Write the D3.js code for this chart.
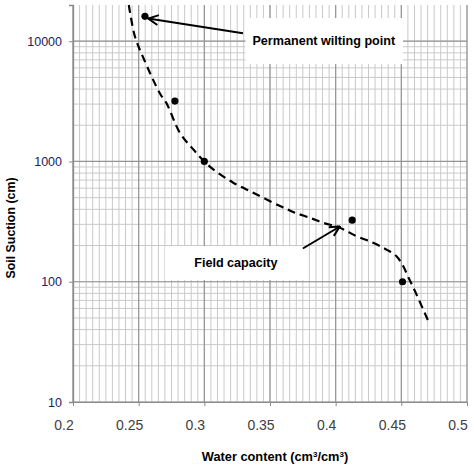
<!DOCTYPE html>
<html>
<head>
  <meta charset="utf-8">
  <title>Soil water retention</title>
  <style>
    body { margin: 0; background: #fff; }
    text { font-family: "Liberation Sans", Arial, sans-serif; }
  </style>
</head>
<body>
  <svg width="474" height="467"></svg>
  <script src="https://cdnjs.cloudflare.com/ajax/libs/d3/7.8.5/d3.min.js"></script>
  <script>
    // valores
    const xTicks = [0.2, 0.25, 0.3, 0.35, 0.4, 0.45, 0.5];
    const yTicks = [10, 100, 1000, 10000];

    const pointWater   = [0.2548, 0.2776, 0.3, 0.4126, 0.4509];
    const pointSuction = [16100, 3180, 1000, 325, 100];

    const curveWater   = [0.2425, 0.2472, 0.2535, 0.2662, 0.2713, 0.2814, 0.2916, 0.3, 0.3068,
                          0.322, 0.3372, 0.3524, 0.3625, 0.369, 0.3804, 0.3905, 0.4032, 0.4159, 0.4285,
                          0.4387, 0.4463, 0.4514, 0.455, 0.4603, 0.4717];
    const curveSuction = [20000, 10900, 7300, 3670, 3030, 1730, 1260, 1000, 860,
                          666, 550, 454, 404, 375, 340, 309, 281, 239, 211,
                          185, 163, 135, 111, 84, 44];

    // anotaciones (coordenadas en unidades de datos)
    const notes = [
      { label: "Permanent wilting point", tx: 0.391, ty: 10100, fromX: 0.3294, fromY: 11650, toX: 0.2573, toY: 15450 },
      { label: "Field capacity",          tx: 0.324, ty: 144,   fromX: 0.375,  fromY: 189,   toX: 0.4032, toY: 288 }
    ];
    const notePad = [[7, 17], [29, 11]];

    const svg = d3.select("svg");
    const margin = {top: 5, right: 7, bottom: 65, left: 73};
    const width = +svg.attr("width") - margin.left - margin.right;
    const height = +svg.attr("height") - margin.top - margin.bottom;

    const x = d3.scaleLinear().domain([0.2, 0.5]).range([0, width]);
    const y = d3.scaleLog().domain([10, 20000]).range([height, 0]);

    const g = svg.append("g").attr("transform", "translate(" + margin.left + "," + margin.top + ")");

    // rejilla menor
    const xMinor = d3.range(0, 61).map(i => 0.2 + i * 0.005);
    g.append("g").selectAll("line")
      .data(xMinor)
      .enter().append("line")
      .attr("x1", d => x(d)).attr("x2", d => x(d))
      .attr("y1", 0).attr("y2", height)
      .attr("stroke", "#c9c9c9").attr("stroke-width", 1);

    const yMinor = y.ticks().filter(d => d < 20000);
    g.append("g").selectAll("line")
      .data(yMinor)
      .enter().append("line")
      .attr("x1", 0).attr("x2", width)
      .attr("y1", d => y(d)).attr("y2", d => y(d))
      .attr("stroke", "#c9c9c9").attr("stroke-width", 1);

    // rejilla mayor
    g.append("g").selectAll("line")
      .data(xTicks)
      .enter().append("line")
      .attr("x1", d => x(d)).attr("x2", d => x(d))
      .attr("y1", 0).attr("y2", height)
      .attr("stroke", "#959595").attr("stroke-width", 1.2);

    g.append("g").selectAll("line")
      .data(yTicks)
      .enter().append("line")
      .attr("x1", 0).attr("x2", width)
      .attr("y1", d => y(d)).attr("y2", d => y(d))
      .attr("stroke", "#959595").attr("stroke-width", 1.2);

    // ejes
    const xAxis = d3.axisBottom(x).tickValues(xTicks).tickFormat(d3.format("")).tickSize(4);
    const gx = g.append("g").attr("transform", "translate(0," + height + ")").call(xAxis);
    gx.select(".domain").attr("stroke", "#8a8a8a");
    gx.selectAll(".tick line").attr("stroke", "#8a8a8a");
    gx.selectAll("text")
      .attr("x", -9.5).attr("y", 28).attr("dy", 0)
      .attr("font-size", 14).attr("fill", "#404040")
      .style("font-family", "Liberation Sans, Arial, sans-serif");

    const yAxis = d3.axisLeft(y).tickValues(yTicks).tickFormat(d3.format("d")).tickSize(4).tickPadding(7);
    const gy = g.append("g").call(yAxis);
    gy.select(".domain").attr("stroke", "#8a8a8a").attr("stroke-width", 1.3);
    gy.selectAll(".tick line").attr("stroke", "#8a8a8a");
    gy.selectAll("text")
      .attr("font-size", 12.5).attr("fill", "#22225a")
      .style("font-family", "Liberation Sans, Arial, sans-serif");

    // curva discontinua
    const curveData = curveWater.map((w, i) => ({w: w, s: curveSuction[i]}));
    const line = d3.line().x(d => x(d.w)).y(d => y(d.s)).curve(d3.curveCatmullRom);
    g.append("path")
      .datum(curveData)
      .attr("d", line)
      .attr("fill", "none")
      .attr("stroke", "#000")
      .attr("stroke-width", 2.2)
      .attr("stroke-dasharray", "8,5");

    // puntos medidos
    g.append("g").selectAll("circle")
      .data(pointWater.map((w, i) => ({w: w, s: pointSuction[i]})))
      .enter().append("circle")
      .attr("cx", d => x(d.w)).attr("cy", d => y(d.s))
      .attr("r", 3.6).attr("fill", "#000");

    // flecha
    svg.append("defs").append("marker")
      .attr("id", "arrow")
      .attr("viewBox", "0 0 12 12")
      .attr("refX", 11).attr("refY", 6)
      .attr("markerWidth", 12).attr("markerHeight", 12)
      .attr("markerUnits", "userSpaceOnUse")
      .attr("orient", "auto")
      .append("path")
      .attr("d", "M1,1 L11,6 L1,11")
      .attr("fill", "none").attr("stroke", "#000").attr("stroke-width", 2);

    notes.forEach((n, i) => {
      const ng = g.append("g");
      const rect = ng.append("rect").attr("fill", "#fff");
      const t = ng.append("text")
        .attr("x", x(n.tx)).attr("y", y(n.ty))
        .attr("dy", "0.35em")
        .attr("text-anchor", "middle")
        .attr("font-size", 12.6).attr("font-weight", "bold")
        .attr("fill", "#000")
        .text(n.label);
      const b = t.node().getBBox();
      rect.attr("x", b.x - notePad[i][0]).attr("y", b.y - notePad[i][1] + 1)
          .attr("width", b.width + 2 * notePad[i][0]).attr("height", b.height + 2 * notePad[i][1] - 2);
      ng.append("line")
        .attr("x1", x(n.fromX)).attr("y1", y(n.fromY))
        .attr("x2", x(n.toX)).attr("y2", y(n.toY))
        .attr("stroke", "#000").attr("stroke-width", 2)
        .attr("marker-end", "url(#arrow)");
    });

    // titulos
    svg.append("text")
      .attr("x", 275).attr("y", 461)
      .attr("text-anchor", "middle")
      .attr("font-size", 12.8).attr("font-weight", "bold").attr("fill", "#000")
      .html("Water content (cm<tspan dy='-4' font-size='8'>3</tspan><tspan dy='4'>/cm</tspan><tspan dy='-4' font-size='8'>3</tspan><tspan dy='4'>)</tspan>");

    svg.append("text")
      .attr("transform", "translate(15,228) rotate(-90)")
      .attr("text-anchor", "middle")
      .attr("font-size", 12.4).attr("font-weight", "bold").attr("fill", "#000")
      .text("Soil Suction (cm)");
  </script>
</body>
</html>
